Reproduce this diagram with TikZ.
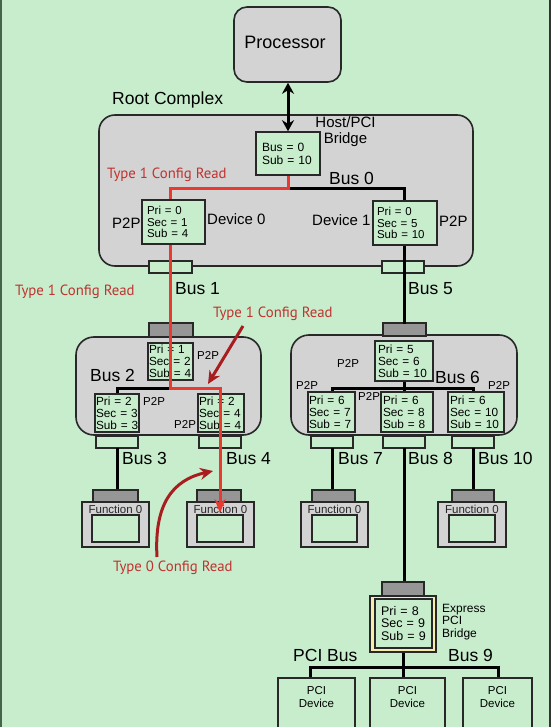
\documentclass[tikz,border=0pt]{standalone}
\usepackage{fontspec}
\setmainfont{Liberation Sans}
\newfontfamily\redfont{PT Sans}
\usetikzlibrary{arrows.meta}
\definecolor{bggreen}{RGB}{199,237,204}
\definecolor{rcgray}{RGB}{211,211,211}
\definecolor{portgray}{RGB}{150,150,150}
\definecolor{redline}{RGB}{232,58,48}
\definecolor{redtext}{RGB}{192,50,48}
\definecolor{darkred}{RGB}{168,30,32}
\definecolor{boxline}{RGB}{40,40,40}
\definecolor{paleyellow}{RGB}{246,236,172}
\definecolor{framecol}{RGB}{70,100,75}
\newcommand\fs[1]{\fontsize{#1}{#1}\selectfont}
\newcommand\rgnode[8]{%
  \pgfmathsetmacro\rgcx{(#3+#5)/2}%
  \pgfmathsetmacro\rgcy{(#4+#6)/2}%
  \pgfmathsetmacro\rgtw{#5-#3-2*#7}%
  \pgfmathsetmacro\rgh{#6-#4}%
  \node[#1, inner xsep=#7pt, inner ysep=0pt, text width=\rgtw pt, minimum height=\rgh pt] (#2) at (\rgcx,\rgcy) {#8};}
\newcommand\plbox[6]{%
  \pgfmathsetmacro\rgcx{(#3+#5)/2}%
  \pgfmathsetmacro\rgcy{(#4+#6)/2}%
  \pgfmathsetmacro\rgw{#5-#3}%
  \pgfmathsetmacro\rgh{#6-#4}%
  \node[#1, inner sep=0pt, minimum width=\rgw pt, minimum height=\rgh pt] (#2) at (\rgcx,\rgcy) {};}
\begin{document}
\begin{tikzpicture}[x=1pt,y=-1pt,
  container/.style={draw=boxline, fill=rcgray, line width=1.6pt, rounded corners=16pt},
  regbox/.style={draw=boxline, fill=bggreen, line width=1.5pt, align=left, font=\fs{11.5}},
  portbox/.style={draw=boxline, fill=bggreen, line width=1.4pt},
  dportbox/.style={draw=boxline, fill=portgray, line width=1.4pt},
  funcbox/.style={draw=boxline, fill=rcgray, line width=1.5pt},
  innerbox/.style={draw=boxline, fill=bggreen, line width=1.4pt},
  busline/.style={draw=black, line width=3pt},
  redpath/.style={draw=redline, line width=3pt},
  lbl/.style={anchor=west, inner sep=0pt, font=\fs{17.5}, text height=0.72em, text depth=0pt},
  mlbl/.style={anchor=west, inner sep=0pt, font=\fs{15}, text height=0.72em, text depth=0pt},
  slbl/.style={anchor=west, inner sep=0pt, font=\fs{11.5}, text height=0.72em, text depth=0pt},
  redlbl/.style={anchor=west, inner sep=0pt, font=\redfont\fs{14.8}, text=redtext, text height=0.7em, text depth=0pt}
]
\clip (0,0) rectangle (553,727);
\fill[bggreen] (0,0) rectangle (553,727);
\fill[white] (551,0) rectangle (553,727);
\draw[framecol, line width=1.5pt] (0.75,0) -- (0.75,727);
\draw[black!80, line width=1.5pt] (550,0) -- (550,727);

% containers
\plbox{container, rounded corners=13pt}{proc}{234}{7}{341}{82}
\node[font=\fs{18}] (proctext) at (285,42) {Processor};
\plbox{container}{rc}{99}{115}{473}{266}
\plbox{container, rounded corners=18pt}{ls}{76}{337}{261}{435}
\plbox{container, rounded corners=18pt}{rs}{291}{335}{517}{435}

% ports on containers
\plbox{portbox}{rcpl}{149}{261}{192}{273}
\plbox{portbox}{rcpr}{382}{261}{424}{273}
\plbox{dportbox}{lstop}{149}{323}{193}{337}
\plbox{dportbox}{rstop}{383}{323}{426}{336}
\plbox{portbox}{lsbl}{96}{436}{138}{448}
\plbox{portbox}{lsbr}{199}{436}{241}{448}
\plbox{portbox}{rsb1}{311}{436}{353}{448}
\plbox{portbox}{rsb2}{383}{436}{425}{448}
\plbox{portbox}{rsb3}{452}{436}{494}{448}

% black buses (under boxes)
\coordinate (b0) at (288,189);
\draw[busline] (b0) -- (b0 -| 404,0) -- (404,201);
\draw[busline] (404,244) -- (404,324);
\coordinate (b2l) at (117,388);
\draw[busline] (117,394) -- (b2l) -- (171,388);
\draw[busline] (117,448) -- (117,491);
\coordinate (b6) at (404,388);
\draw[busline] (404,381) -- (b6);
\draw[busline] (332,393) -- (332,388) -- (473,388) -- (473,393);
\draw[busline] (404,388) -- (404,393);
\draw[busline] (332,448) -- (332,491);
\draw[busline] (404,448) -- (404,583);
\draw[busline] (473,448) -- (473,491);
\coordinate (pcib) at (403,667);
\draw[busline] (403,652) -- (pcib);
\draw[busline] (310,678) -- (310,667) -- (498,667) -- (498,678);
\draw[busline] (403,667) -- (403,678);

% root complex boxes
\rgnode{regbox, font=\fs{12}}{host}{256}{132}{320}{175}{6}{Bus~=~0\\[1pt]Sub~=~10}
\rgnode{regbox, font=\fs{11.5}}{dev0}{142}{200}{205}{244}{5}{Pri~=~0\\Sec~=~1\\Sub~=~4}
\rgnode{regbox, font=\fs{11.5}}{dev1}{373}{201}{437}{245}{4}{Pri~=~0\\Sec~=~5\\Sub~=~10}

% left switch boxes
\rgnode{regbox, font=\fs{11.8}}{lsup}{148}{343}{193}{380}{1}{Pri~=~1\\Sec~=~2\\Sub~=~4}
\rgnode{regbox, font=\fs{11.8}}{lsc1}{95}{394}{139}{432}{1}{Pri~=~2\\Sec~=~3\\Sub~=~3}
\rgnode{regbox, font=\fs{11.8}}{lsc2}{198}{394}{244}{432}{1}{Pri~=~2\\Sec~=~4\\Sub~=~4}

% right switch boxes
\rgnode{regbox, font=\fs{11.8}}{rsup}{375}{341}{433}{381}{3}{Pri~=~5\\Sec~=~6\\Sub~=~10}
\rgnode{regbox, font=\fs{11.8}}{rsc1}{308}{392}{355}{432}{1}{Pri~=~6\\Sec~=~7\\Sub~=~7}
\rgnode{regbox, font=\fs{11.8}}{rsc2}{381}{392}{433}{432}{2}{Pri~=~6\\Sec~=~8\\Sub~=~8}
\rgnode{regbox, font=\fs{11.8}}{rsc3}{448}{392}{504}{432}{2}{Pri~=~6\\Sec~=~10\\Sub~=~10}

% function boxes
\plbox{funcbox}{f1}{82}{502}{149}{547}
\plbox{funcbox}{f2}{187}{502}{254}{547}
\plbox{funcbox}{f3}{301}{502}{368}{547}
\plbox{funcbox}{f4}{438}{502}{506}{547}
\plbox{innerbox}{f1i}{92}{515}{139}{542}
\plbox{innerbox}{f2i}{197}{515}{243}{542}
\plbox{innerbox}{f3i}{312}{515}{357}{542}
\plbox{innerbox}{f4i}{449}{515}{495}{542}
\plbox{dportbox}{f1p}{93}{490}{138}{502}
\plbox{dportbox}{f2p}{197}{490}{241}{502}
\plbox{dportbox}{f3p}{312}{490}{355}{502}
\plbox{dportbox}{f4p}{452}{490}{494}{502}
\foreach \n/\cx in {f1t/115.5, f2t/220.5, f3t/334.5, f4t/472}
  \node[font=\fs{11.5}, text=black!85, inner sep=0pt] (\n) at (\cx,509) {Function 0};

% express bridge
\plbox{dportbox}{ebp}{382}{582}{424}{596}
\plbox{draw=boxline, fill=paleyellow, line width=1.3pt}{ebo}{370}{596}{436}{652}
\rgnode{regbox, font=\fs{12.5}, line width=1.3pt}{ebi}{375}{599}{432}{648}{6}{Pri~=~8\\Sec~=~9\\Sub~=~9}

% PCI devices
\plbox{draw=boxline, fill=bggreen, line width=1.5pt}{pci1}{278}{678}{355}{740}
\plbox{draw=boxline, fill=bggreen, line width=1.5pt}{pci2}{370}{678}{445}{740}
\plbox{draw=boxline, fill=bggreen, line width=1.5pt}{pci3}{463}{678}{532}{740}
\foreach \n/\cx in {p1t/316.5, p2t/407.5, p3t/497.5}
  \node[font=\fs{11.5}, align=center, inner sep=0pt] (\n) at (\cx,697) {PCI\\[1pt]Device};

% processor arrow
\draw[line width=3pt, {Stealth[length=11pt,width=12pt]}-{Stealth[length=11pt,width=12pt]}] (proc.south -| host.north) -- (host.north);

% red path
\draw[redpath] (host.south -| b0) -- (b0) -- (b0 -| 170,0) -- (dev0.north -| 170,0);
\draw[redpath, -{Stealth[length=14pt,width=11pt]}] (dev0.south -| 170,0) -- (170,388) -- (220,388) -- (220,513);

% labels
\node[lbl] (rclbl) at (112,101) {Root Complex};
\node[font=\fs{15}, align=center, inner sep=0pt] (hostlbl) at (345.5,132) {Host/PCI\\[1pt]Bridge};
\node[lbl] (bus0) at (329,181) {Bus 0};
\node[redlbl] (t1a) at (107,175) {Type 1 Config Read};
\node[mlbl] (p2pa) at (112,225) {P2P};
\node[mlbl] (dev0l) at (207,221) {Device 0};
\node[mlbl] (dev1l) at (312,222) {Device 1};
\node[mlbl] (p2pb) at (439,223) {P2P};
\node[redlbl] (t1b) at (15,292) {Type 1 Config Read};
\node[lbl] (bus1) at (175,291) {Bus 1};
\node[lbl] (bus5) at (408,291) {Bus 5};
\node[redlbl] (t1c) at (213,314) {Type 1 Config Read};
\node[slbl] (p2pc) at (197,356) {P2P};
\node[lbl] (bus2) at (90,378) {Bus 2};
\node[slbl] (p2pd) at (143,402) {P2P};
\node[slbl] (p2pe) at (174,425) {P2P};
\node[slbl] (p2pf) at (337,364) {P2P};
\node[slbl] (p2pg) at (296,386) {P2P};
\node[slbl] (p2ph) at (358,397) {P2P};
\node[lbl] (bus6) at (435,380) {Bus 6};
\node[slbl] (p2pi) at (488,386) {P2P};
\node[lbl] (bus3) at (122,461) {Bus 3};
\node[lbl] (bus4) at (226,461) {Bus 4};
\node[lbl] (bus7) at (338,461) {Bus 7};
\node[lbl] (bus8) at (408,461) {Bus 8};
\node[lbl] (bus10) at (478,461) {Bus 10};
\node[redlbl] (t0) at (113,568) {Type 0 Config Read};
\node[font=\fs{12}, align=left, anchor=north west, inner sep=0pt] (eblbl) at (442,604) {Express\\[0.5pt]PCI\\[0.5pt]Bridge};
\node[lbl] (pcibus) at (293,658) {PCI Bus};
\node[lbl] (bus9) at (448,658) {Bus 9};

% dark red annotation arrows
\coordinate (t1tip) at (208,384);
\draw[darkred, line width=3pt, -{Stealth[length=13pt,width=12pt]}] (243,326) -- (t1tip);
\coordinate (t0tip) at (213,471);
\draw[darkred, line width=3pt, -{Stealth[length=13pt,width=12pt]}] (157,557) .. controls (154,505) and (172,480) .. (t0tip);
\end{tikzpicture}
\end{document}
